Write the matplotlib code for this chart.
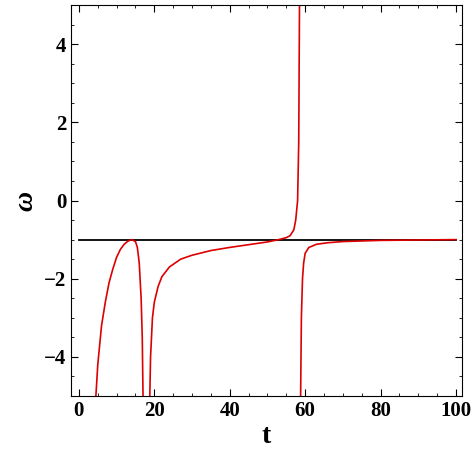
import matplotlib; matplotlib.use("Agg")
import matplotlib.pyplot as plt
from matplotlib.ticker import MultipleLocator

# red curve, three branches
t1 = [4.5, 5, 6, 7, 8, 9, 10, 11, 12, 13, 14, 15, 15.5, 16, 16.5, 16.8, 17]
w1 = [-5, -4.2, -3.2, -2.6, -2.1, -1.75, -1.45, -1.25, -1.12, -1.04, -1.0, -1.05, -1.2, -1.6, -2.5, -3.5, -5]
t2 = [18.8, 19, 19.5, 20, 21, 22, 24, 27, 30, 35, 40, 45, 50, 53, 55, 56, 57, 57.5, 58, 58.3, 58.5]
w2 = [-5, -4, -3, -2.6, -2.2, -1.95, -1.7, -1.5, -1.4, -1.28, -1.2, -1.13, -1.06, -1.0, -0.95, -0.9, -0.75, -0.5, 0, 1.5, 5]
t3 = [58.8, 59, 59.3, 59.6, 60, 61, 63, 66, 70, 80, 90, 100]
w3 = [-5, -3, -2, -1.6, -1.35, -1.2, -1.12, -1.08, -1.05, -1.02, -1.01, -1.0]
ref_t = [0, 100]
ref_w = [-1, -1]

plt.rcParams["font.family"] = "Liberation Serif"
fig = plt.figure(figsize=(4.74, 4.67), dpi=100)
ax = fig.add_axes([71 / 474, 1 - 396 / 467, 391 / 474, 391 / 467])
ax.plot(ref_t, ref_w, color="black", lw=1.3)
for t, w in [(t1, w1), (t2, w2), (t3, w3)]:
    ax.plot(t, w, color="#dd0000", lw=1.2)
ax.set_xlim(-2.1, 101.6)
ax.set_ylim(-5, 5)
ax.set_xticks([0, 20, 40, 60, 80, 100])
ax.set_yticks([-4, -2, 0, 2, 4])
ax.set_yticklabels(["\u22124", "\u22122", "0", "2", "4"])
ax.xaxis.set_minor_locator(MultipleLocator(5))
ax.yaxis.set_minor_locator(MultipleLocator(0.5))
ax.tick_params(which="both", direction="in", top=True, right=True)
ax.tick_params(which="major", labelsize=15, length=5)
ax.tick_params(which="minor", length=2.5)
for lab in ax.get_xticklabels() + ax.get_yticklabels():
    lab.set_fontweight("bold")
ax.set_xlabel("t", fontsize=20, fontweight="bold", labelpad=2)
ax.set_ylabel("\u03c9", fontsize=20, style="italic", fontweight="bold")
plt.savefig("out.png", dpi=100, facecolor="white")
